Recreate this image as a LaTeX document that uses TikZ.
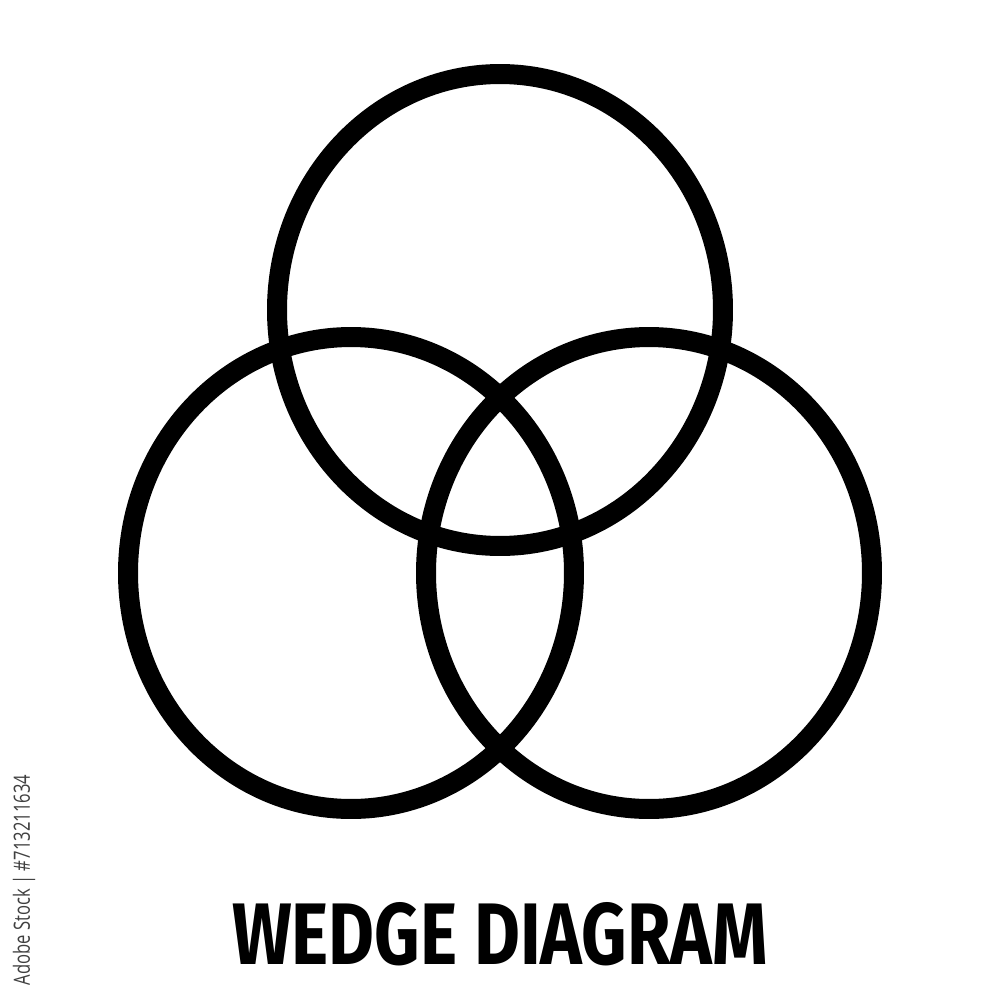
\documentclass[tikz,border=0pt]{standalone}
\usepackage{fontspec}
\setmainfont{Fira Sans}
\newfontfamily\stockfont{Open Sans}
\usetikzlibrary{shapes.geometric}
\tikzset{
  ring/.style={ellipse, draw=black, line width=1cm, minimum width=22.3cm, minimum height=23.6cm, inner sep=0pt},
}
\begin{document}
\begin{tikzpicture}[x=0.05cm,y=-0.05cm]
\useasboundingbox (0,0) rectangle (1000,1000);
\fill[white] (0,0) rectangle (1000,1000);
\node[ring] (top) at (500,310) {};
\node[ring] (left) at (351,573) {};
\node[ring] (right) at (649,573) {};
\node[inner sep=0pt] (title) at (500,934) {\resizebox{26.8cm}{3.1cm}{\bfseries WEDGE DIAGRAM}};
\node[inner sep=0pt, rotate=90, text=black!75] (stock) at (24,880) {\resizebox{10.5cm}{0.85cm}{\stockfont Adobe Stock | \#713211634}};
\end{tikzpicture}
\end{document}
